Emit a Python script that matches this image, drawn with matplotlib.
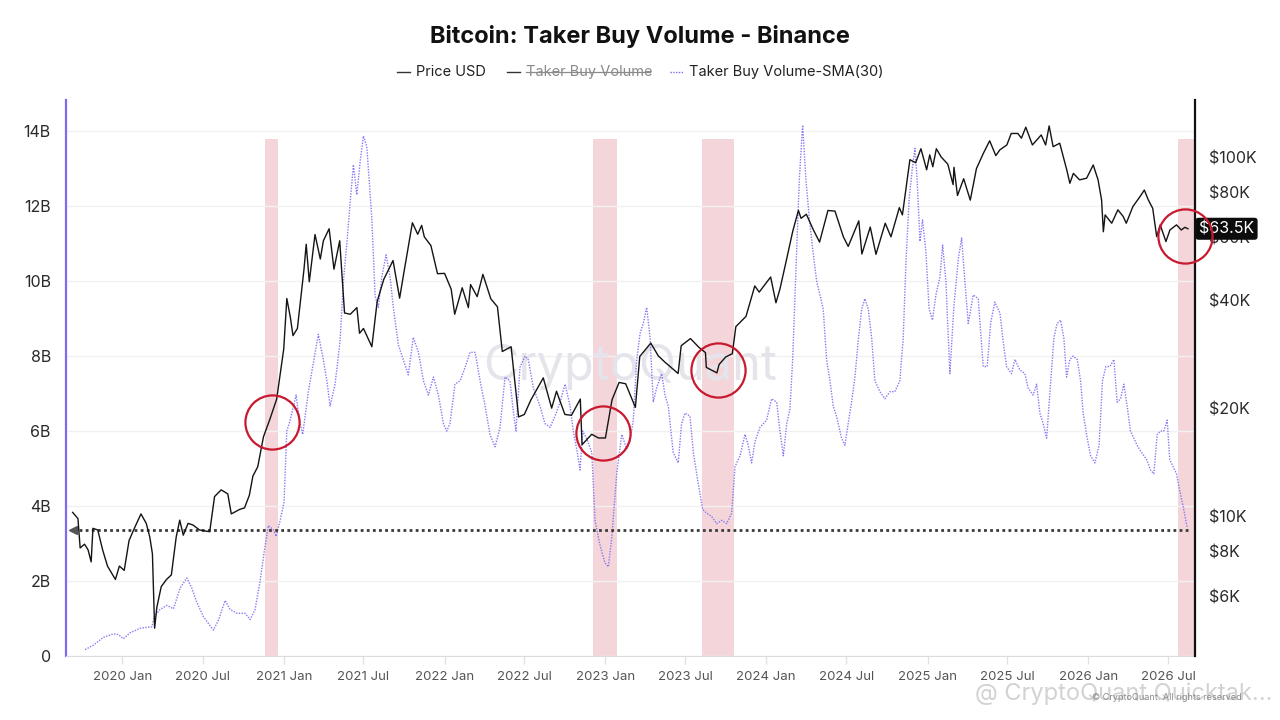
import matplotlib
matplotlib.use('Agg')
import matplotlib.pyplot as plt
import pandas as pd

plt.rcParams['font.family'] = ['Inter', 'DejaVu Sans']

# --- data ---
price_dates = [
    '2019-09-10', '2019-09-22', '2019-09-27', '2019-10-07', '2019-10-15', '2019-10-22', '2019-10-26',
    '2019-11-06', '2019-11-17', '2019-11-28', '2019-12-16', '2019-12-25', '2020-01-05', '2020-01-16',
    '2020-01-28', '2020-02-12', '2020-02-24', '2020-03-03', '2020-03-09', '2020-03-14', '2020-03-19',
    '2020-03-29', '2020-04-10', '2020-04-21', '2020-05-02', '2020-05-10', '2020-05-18', '2020-05-29',
    '2020-06-09', '2020-06-24', '2020-07-17', '2020-07-28', '2020-08-12', '2020-08-27', '2020-09-04',
    '2020-09-23', '2020-10-04', '2020-10-15', '2020-10-23', '2020-11-03', '2020-11-16', '2020-12-01',
    '2020-12-16', '2021-01-01', '2021-01-08', '2021-01-16', '2021-01-22', '2021-02-01', '2021-02-16',
    '2021-02-21', '2021-02-28', '2021-03-13', '2021-03-25', '2021-04-01', '2021-04-14', '2021-04-25',
    '2021-05-08', '2021-05-19', '2021-06-01', '2021-06-16', '2021-06-22', '2021-07-01', '2021-07-20',
    '2021-08-01', '2021-08-16', '2021-09-06', '2021-09-21', '2021-10-01', '2021-10-20', '2021-11-01',
    '2021-11-10', '2021-11-16', '2021-12-01', '2021-12-16', '2022-01-01', '2022-01-16', '2022-01-24',
    '2022-02-10', '2022-02-24', '2022-03-01', '2022-03-16', '2022-03-29', '2022-04-16', '2022-05-01',
    '2022-05-12', '2022-06-01', '2022-06-18', '2022-07-01', '2022-07-16', '2022-08-13', '2022-09-01',
    '2022-09-12', '2022-10-01', '2022-10-16', '2022-11-05', '2022-11-09', '2022-12-01', '2022-12-16',
    '2023-01-01', '2023-01-16', '2023-02-01', '2023-02-16', '2023-03-10', '2023-03-20', '2023-04-14',
    '2023-05-01', '2023-05-16', '2023-06-15', '2023-06-22', '2023-07-13', '2023-08-01', '2023-08-16',
    '2023-08-18', '2023-09-11', '2023-09-16', '2023-10-01', '2023-10-16', '2023-10-24', '2023-11-16',
    '2023-12-06', '2023-12-16', '2024-01-11', '2024-01-23', '2024-02-01', '2024-02-16', '2024-03-01',
    '2024-03-14', '2024-03-20', '2024-04-01', '2024-04-16', '2024-05-01', '2024-05-20', '2024-06-05',
    '2024-06-24', '2024-07-05', '2024-07-29', '2024-08-05', '2024-08-24', '2024-09-06', '2024-09-27',
    '2024-10-10', '2024-10-29', '2024-11-05', '2024-11-22', '2024-12-05', '2024-12-17', '2024-12-30',
    '2025-01-06', '2025-01-13', '2025-01-21', '2025-02-01', '2025-02-16', '2025-02-28', '2025-03-02',
    '2025-03-10', '2025-03-24', '2025-04-08', '2025-04-22', '2025-05-08', '2025-05-22', '2025-06-05',
    '2025-06-14', '2025-06-30', '2025-07-10', '2025-07-25', '2025-08-02', '2025-08-12', '2025-08-27',
    '2025-09-16', '2025-09-26', '2025-10-04', '2025-10-13', '2025-10-28', '2025-11-05', '2025-11-13',
    '2025-11-20', '2025-11-28', '2025-12-12', '2025-12-28', '2026-01-12', '2026-01-23', '2026-01-31',
    '2026-02-04', '2026-02-08', '2026-02-23', '2026-03-09', '2026-03-21', '2026-03-28', '2026-04-12',
    '2026-04-28', '2026-05-08', '2026-05-17', '2026-05-27', '2026-06-05', '2026-06-13', '2026-06-26',
    '2026-07-05', '2026-07-20', '2026-07-31', '2026-08-08', '2026-08-15',
]
price_usd = [
    10300, 9900, 8200, 8400, 8100, 7500, 9300,
    9200, 8100, 7300, 6700, 7300, 7100, 8600,
    9300, 10200, 9600, 8800, 7900, 4900, 5600,
    6400, 6700, 6900, 8800, 9800, 8900, 9600,
    9500, 9200, 9100, 11400, 11900, 11600, 10200,
    10500, 10600, 11500, 13000, 13800, 16720, 18790,
    21300, 29370, 40600, 36000, 32000, 33500, 49000,
    57500, 45200, 61200, 52300, 58800, 63500, 49000,
    58800, 37000, 36700, 38300, 32500, 33500, 29800,
    39800, 45900, 51800, 40700, 48200, 66000, 61300,
    64900, 60300, 57000, 47600, 47700, 43100, 36700,
    43500, 38300, 44400, 41100, 47400, 40500, 38500,
    28900, 29800, 19000, 19300, 21200, 24400, 20100,
    22400, 19300, 19200, 21300, 15900, 17000, 16600,
    16600, 21200, 23700, 23500, 20200, 28000, 30500,
    28100, 27000, 25100, 30000, 31400, 29700, 28700,
    26100, 25200, 26600, 27900, 28500, 33900, 36200,
    44000, 42300, 46600, 39500, 43100, 52100, 62400,
    71400, 67900, 69700, 63400, 58300, 71400, 71100,
    60300, 56700, 66800, 54000, 64200, 53900, 65800,
    60300, 72700, 69400, 98900, 97000, 106100, 92700,
    102000, 94500, 106100, 100600, 96100, 84300, 94200,
    78600, 87500, 76300, 93400, 103200, 111600, 101500,
    105300, 108700, 117000, 117000, 113500, 121800, 108700,
    115900, 108700, 122800, 107500, 109900, 100800, 92600,
    85000, 90600, 86900, 87800, 95600, 86900, 76400,
    62300, 69400, 65800, 71700, 68700, 65800, 73200,
    78000, 81400, 76400, 72400, 60400, 65100, 58500,
    63000, 65100, 63000, 64100, 63500,
]

# Taker Buy Volume SMA(30): time in decimal years, values in billions
sma_years = [
    2019.768, 2019.820, 2019.882, 2019.944, 2019.975, 2020.006, 2020.048, 2020.110, 2020.183, 2020.197,
    2020.234, 2020.276, 2020.317, 2020.358, 2020.400, 2020.431, 2020.462, 2020.503, 2020.565, 2020.596,
    2020.638, 2020.669, 2020.711, 2020.762, 2020.793, 2020.824, 2020.855, 2020.880, 2020.907, 2020.938,
    2020.955, 2020.980, 2021.004, 2021.021, 2021.042, 2021.079, 2021.099, 2021.120, 2021.155, 2021.186,
    2021.217, 2021.248, 2021.270, 2021.290, 2021.321, 2021.352, 2021.373, 2021.394, 2021.414, 2021.435,
    2021.456, 2021.476, 2021.497, 2021.518, 2021.549, 2021.570, 2021.590, 2021.611, 2021.638, 2021.663,
    2021.683, 2021.714, 2021.745, 2021.776, 2021.807, 2021.839, 2021.870, 2021.901, 2021.932, 2021.963,
    2021.994, 2022.015, 2022.035, 2022.066, 2022.098, 2022.129, 2022.160, 2022.191, 2022.222, 2022.253,
    2022.284, 2022.315, 2022.346, 2022.377, 2022.408, 2022.429, 2022.445, 2022.470, 2022.501, 2022.522,
    2022.553, 2022.594, 2022.625, 2022.657, 2022.688, 2022.719, 2022.750, 2022.781, 2022.801, 2022.826,
    2022.843, 2022.860, 2022.884, 2022.916, 2022.936, 2022.967, 2022.998, 2023.019, 2023.040, 2023.071,
    2023.102, 2023.133, 2023.153, 2023.174, 2023.195, 2023.216, 2023.236, 2023.257, 2023.278, 2023.298,
    2023.319, 2023.350, 2023.371, 2023.391, 2023.422, 2023.453, 2023.474, 2023.495, 2023.526, 2023.547,
    2023.578, 2023.605, 2023.630, 2023.661, 2023.692, 2023.723, 2023.754, 2023.785, 2023.806, 2023.837,
    2023.868, 2023.888, 2023.909, 2023.930, 2023.961, 2024.002, 2024.033, 2024.065, 2024.085, 2024.106,
    2024.127, 2024.147, 2024.164, 2024.184, 2024.205, 2024.226, 2024.247, 2024.267, 2024.288, 2024.313,
    2024.334, 2024.354, 2024.375, 2024.396, 2024.416, 2024.437, 2024.468, 2024.489, 2024.509, 2024.530,
    2024.551, 2024.571, 2024.593, 2024.613, 2024.634, 2024.655, 2024.675, 2024.706, 2024.737, 2024.768,
    2024.799, 2024.830, 2024.851, 2024.868, 2024.888, 2024.909, 2024.924, 2024.938, 2024.955, 2024.971,
    2024.992, 2025.012, 2025.033, 2025.054, 2025.079, 2025.096, 2025.116, 2025.141, 2025.166, 2025.193,
    2025.214, 2025.234, 2025.255, 2025.286, 2025.317, 2025.348, 2025.373, 2025.394, 2025.420, 2025.452,
    2025.472, 2025.493, 2025.524, 2025.545, 2025.576, 2025.607, 2025.627, 2025.658, 2025.680, 2025.700,
    2025.720, 2025.742, 2025.766, 2025.787, 2025.807, 2025.829, 2025.849, 2025.866, 2025.886, 2025.907,
    2025.932, 2025.953, 2025.969, 2025.990, 2026.015, 2026.042, 2026.068, 2026.089, 2026.110, 2026.135,
    2026.160, 2026.180, 2026.201, 2026.222, 2026.242, 2026.263, 2026.284, 2026.304, 2026.332, 2026.363,
    2026.388, 2026.408, 2026.429, 2026.450, 2026.470, 2026.491, 2026.507, 2026.528, 2026.549, 2026.570,
    2026.590, 2026.615,
]
sma_bn = [
    0.17, 0.29, 0.50, 0.59, 0.57, 0.46, 0.62, 0.74, 0.78, 1.05,
    1.24, 1.35, 1.26, 1.81, 2.08, 1.81, 1.43, 1.05, 0.69, 0.95,
    1.48, 1.24, 1.14, 1.14, 0.97, 1.24, 2.00, 2.76, 3.48, 3.36,
    3.19, 3.62, 4.10, 6.00, 6.29, 6.96, 6.29, 5.91, 7.05, 7.82,
    8.58, 7.91, 7.34, 6.67, 7.25, 8.40, 10.0, 11.0, 12.06, 13.1,
    12.3, 13.15, 13.87, 13.6, 11.7, 9.6, 9.3, 10.1, 10.7, 10.1,
    9.3, 8.3, 7.9, 7.5, 8.5, 8.1, 7.34, 6.96, 7.44, 6.96,
    6.2, 6.0, 6.2, 7.25, 7.34, 7.7, 8.1, 8.1, 7.34, 6.67,
    5.9, 5.58, 6.1, 7.44, 7.34, 6.5, 6.0, 7.7, 8.0, 7.9,
    7.15, 6.67, 6.2, 6.1, 6.4, 6.77, 7.25, 6.67, 6.0, 5.43,
    4.96, 6.0, 5.8, 5.43, 3.62, 2.96, 2.48, 2.38, 3.15, 4.86,
    5.91, 5.53, 5.72, 6.3, 7.9, 8.6, 8.87, 9.3, 8.5, 6.77,
    7.15, 7.53, 6.96, 6.67, 5.43, 5.15, 6.2, 6.48, 6.4, 5.43,
    4.58, 3.91, 3.81, 3.72, 3.53, 3.62, 3.53, 3.81, 5.05, 5.34,
    5.91, 5.62, 5.15, 5.72, 6.1, 6.29, 6.86, 6.77, 6.0, 5.34,
    6.2, 6.58, 7.9, 10.2, 12.68, 14.16, 12.68, 11.7, 10.87, 10.0,
    9.63, 9.25, 7.9, 7.34, 6.67, 6.39, 5.81, 5.62, 6.2, 6.77,
    7.44, 8.39, 9.25, 9.53, 9.25, 8.48, 7.34, 7.05, 6.86, 7.05,
    7.05, 7.34, 8.48, 10.5, 12.2, 13.06, 13.54, 12.68, 11.06, 11.63,
    10.77, 9.25, 8.96, 9.63, 10.1, 10.96, 10.0, 7.53, 9.34, 10.58,
    11.15, 10.0, 8.87, 9.63, 9.53, 7.72, 7.72, 8.87, 9.44, 9.15,
    8.39, 7.72, 7.53, 7.91, 7.63, 7.53, 7.15, 6.96, 7.25, 6.48,
    6.2, 5.81, 7.25, 8.48, 8.87, 8.96, 8.48, 7.44, 7.91, 8.0,
    7.91, 7.34, 6.48, 5.91, 5.34, 5.15, 5.62, 7.34, 7.72, 7.72,
    7.91, 6.77, 6.86, 7.25, 6.67, 6.0, 5.81, 5.62, 5.43, 5.24,
    4.96, 4.86, 5.91, 6.0, 6.0, 6.29, 5.24, 5.05, 4.86, 4.39,
    4.0, 3.43,
]

band_starts = ['2020-11-19', '2022-12-04', '2023-08-08', '2026-07-24']
band_ends = ['2020-12-19', '2023-01-27', '2023-10-20', '2026-09-01']
band_top_bn = 13.8

circle_dates = ['2020-12-06', '2022-12-27', '2023-09-14', '2026-08-09']
circle_bn = [6.24, 5.95, 7.63, 11.2]

ref_level_bn = 3.36
ref_span = ['2019-09-10', '2026-08-20']
last_price = 63500
last_price_label = '$63.5K'

vol_ticks = [0, 2, 4, 6, 8, 10, 12, 14]
vol_labels = ['0', '2B', '4B', '6B', '8B', '10B', '12B', '14B']
price_ticks = [6000, 8000, 10000, 20000, 40000, 60000, 80000, 100000]
price_labels = ['$6K', '$8K', '$10K', '$20K', '$40K', '$60K', '$80K', '$100K']
x_tick_dates = ['2020-01-01', '2020-07-01', '2021-01-01', '2021-07-01', '2022-01-01', '2022-07-01',
                '2023-01-01', '2023-07-01', '2024-01-01', '2024-07-01', '2025-01-01', '2025-07-01',
                '2026-01-01', '2026-07-01']
x_tick_labels = ['2020 Jan', '2020 Jul', '2021 Jan', '2021 Jul', '2022 Jan', '2022 Jul',
                 '2023 Jan', '2023 Jul', '2024 Jan', '2024 Jul', '2025 Jan', '2025 Jul',
                 '2026 Jan', '2026 Jul']

PURPLE = '#7b6cf2'
PINK = '#f4d6da'
RED = '#c8192e'


def years_to_dates(years):
    return [pd.Timestamp('2020-01-01') + pd.Timedelta(days=(y - 2020) * 365.25) for y in years]


p_dates = pd.to_datetime(price_dates)
s_dates = years_to_dates(sma_years)

fig = plt.figure(figsize=(12.8, 7.2), dpi=100)
ax = fig.add_axes([0.0516, 0.0889, 0.8820, 0.7722])
ax2 = ax.twinx()

# highlight bands
for s, e in zip(band_starts, band_ends):
    ax.fill_between(pd.to_datetime([s, e]), 0, band_top_bn, color=PINK, lw=0, zorder=0)

ax.plot(s_dates, sma_bn, color=PURPLE, lw=1.0, ls=(0, (1, 1)), alpha=0.9, zorder=2)

# reference level
rs = pd.to_datetime(ref_span)
ax.plot(rs, [ref_level_bn, ref_level_bn], color='#3a3a3a', lw=2.0, ls=(0, (1, 1.2)), zorder=3)
ax.plot([rs[0]], [ref_level_bn], marker='<', color='#555555', ms=6, zorder=3)

ax2.plot(p_dates, price_usd, color='#141414', lw=1.0, zorder=3)

# circles
ax2.plot(pd.to_datetime(circle_dates), circle_bn, ls='none', marker='o', ms=39,
         mfc='none', mec=RED, mew=1.6, transform=ax.transData, zorder=6, clip_on=False)

# axes ranges
ax.set_xlim(pd.Timestamp('2019-08-26'), pd.Timestamp('2026-08-31'))
ax.set_ylim(0, 14.83)
ax2.set_yscale('log')
ax2.set_ylim(4101, 145000)

ax.set_yticks(vol_ticks)
ax.set_yticklabels(vol_labels)
ax2.set_yticks(price_ticks)
ax2.set_yticklabels(price_labels)
ax2.yaxis.set_minor_locator(matplotlib.ticker.NullLocator())
ax.set_xticks(pd.to_datetime(x_tick_dates))
ax.set_xticklabels(x_tick_labels)

ax.tick_params(axis='y', length=0, pad=11, labelsize=11.5, labelcolor='#2a2a2a')
ax2.tick_params(axis='y', length=0, pad=10, labelsize=11.5, labelcolor='#2a2a2a')
ax.tick_params(axis='x', length=6, width=1, color='#e2e2e2', pad=5, labelsize=9.5, labelcolor='#555555')

ax.grid(axis='y', color='#f1f1f1', lw=1)
ax.set_axisbelow(True)

for a in (ax, ax2):
    a.spines['top'].set_visible(False)
ax.spines['left'].set_color(PURPLE)
ax.spines['left'].set_linewidth(1.6)
ax.spines['right'].set_visible(False)
ax2.spines['left'].set_visible(False)
ax2.spines['right'].set_color('#111111')
ax2.spines['right'].set_linewidth(1.6)
ax.spines['bottom'].set_color('#dcdcdc')
ax2.spines['bottom'].set_visible(False)

# last price tag
ax2.text(1.0035, last_price, last_price_label, transform=ax2.get_yaxis_transform(),
         ha='left', va='center', color='white', fontsize=11.5, zorder=5,
         bbox=dict(boxstyle='round,pad=0.22,rounding_size=0.2', fc='#0c0c0c', ec='none'))

# watermark
ax.text(0.5, 0.52, 'CryptoQuant', transform=ax.transAxes, ha='center', va='center',
        fontsize=35, color='#e4e4ea', zorder=1)

# title and legend
fig.text(0.5, 0.949, 'Bitcoin: Taker Buy Volume - Binance', ha='center', va='center',
         fontsize=17, fontweight='bold', color='#111111')
leg = fig.add_axes([0, 0, 1, 1], facecolor='none')
leg.set_axis_off()
leg.set_xlim(0, 1280)
leg.set_ylim(720, 0)
leg.plot([397, 410], [72, 72], color='#333333', lw=1)
leg.text(416, 72, 'Price USD', va='center', fontsize=10.5, color='#222222')
leg.plot([507, 520], [72, 72], color='#333333', lw=1)
leg.text(526, 72, 'Taker Buy Volume', va='center', fontsize=10.5, color='#8a8a8a')
leg.plot([526, 650], [72, 72], color='#8a8a8a', lw=0.9)
leg.plot([670, 683], [72, 72], color=PURPLE, lw=1, ls=(0, (1, 1)))
leg.text(689, 72, 'Taker Buy Volume-SMA(30)', va='center', fontsize=10.5, color='#222222')

# bottom-right watermark
leg.text(975, 694, '@ CryptoQuant Quicktak...', va='center', fontsize=17, color='#d2d2d2')
leg.text(1092, 697, '\u00a9 CryptoQuant. All rights reserved', va='center', fontsize=6.5, color='#8a8a8a')

fig.savefig('out.png', dpi=100)
